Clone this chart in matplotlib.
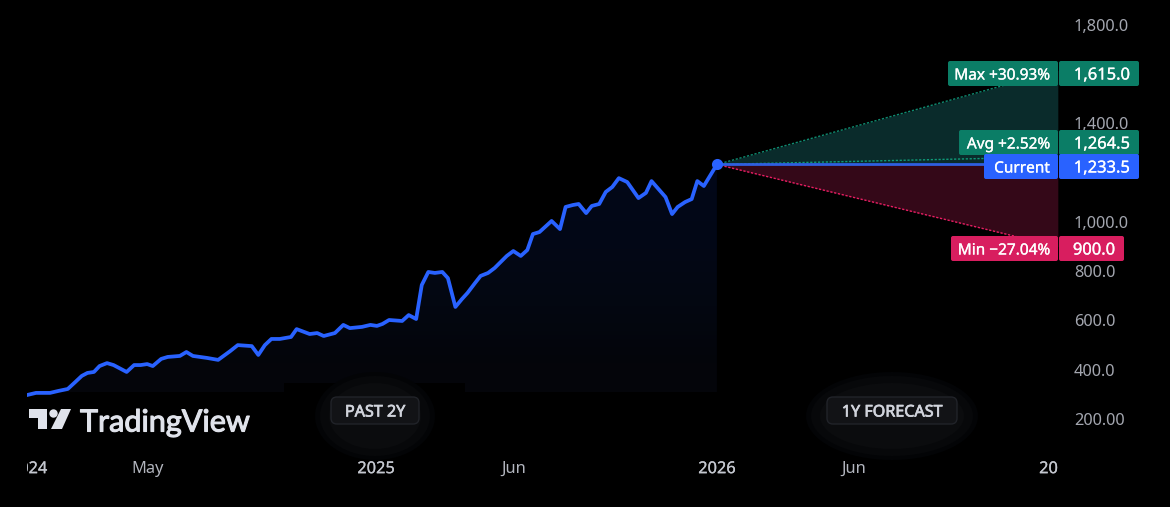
import numpy as np
import matplotlib
matplotlib.use("Agg")
import matplotlib.pyplot as plt
import matplotlib.patheffects as pe
from matplotlib.patches import FancyBboxPatch, Polygon, Circle, Ellipse, Rectangle
from matplotlib.transforms import Affine2D

plt.rcParams['font.family'] = ['Noto Sans', 'DejaVu Sans']

# price history: days relative to 2025-01-01, closing price
days = [-374,-364,-349,-340,-330,-322,-315,-309,-302,-296,-288,-281,-273,-267,-259,-252,-245,-239,-230,-223,
        -210,-203,-196,-181,-169,-156,-148,-133,-126,-119,-112,-103,-91,-85,-71,-63,-56,-44,-35,-28,
        -15,-6,1,7,14,28,35,43,49,56,63,71,77,85,92,98,106,112,120,127,
        140,147,155,162,168,175,188,197,203,211,217,225,231,239,246,253,260,269,281,289,
        295,310,317,323,331,338,344,351,365]
prices = [297,306,306,314,322,350,375,387,391,415,427,419,403,391,419,419,423,415,444,452,
          456,472,456,448,440,476,500,496,460,500,525,525,533,565,545,549,537,549,582,569,
          574,582,578,586,602,598,622,606,744,797,793,797,772,655,687,712,752,781,793,813,
          862,882,862,886,951,959,1004,971,1061,1069,1073,1036,1065,1073,1122,1142,1178,1162,1097,1118,
          1166,1101,1032,1061,1081,1093,1166,1146,1233.5]

current_price = 1233.5
forecast_end_day = 730
forecast_max = 1615.0
forecast_avg = 1264.5
forecast_min = 900.0

y_ticks = [200, 400, 600, 800, 1000, 1400, 1800]
y_labels = ['200.00', '400.0', '600.0', '800.0', '1,000.0', '1,400.0', '1,800.0']
x_ticks = [-372, -245, 0, 148, 365, 512, 730]
x_labels = ['2024', 'May', '2025', 'Jun', '2026', 'Jun', '2027']
x_major = ['2024', '2025', '2026', '2027']

BLUE = '#2962ff'
GREEN = '#0b7d66'
RED = '#d81e5f'

W, H = 1170, 507
fig = plt.figure(figsize=(W/100, H/100), dpi=100, facecolor='black')
ax = fig.add_axes([27/W, 0, (1058-27)/W, 1], facecolor='black')
for s in ax.spines.values():
    s.set_visible(False)

px = Affine2D().scale(1, -1).translate(0, H)

# area under history
base = 200 + (419-392)/0.2463
poly = Polygon(np.c_[days + days[::-1], prices + [base]*len(days)], closed=True, fc='none', ec='none',
               transform=ax.transData)
ax.add_patch(poly)
grad = np.array([[[2, 7, 24]], [[3, 8, 22]], [[3, 7, 17]], [[4, 5, 10]]], dtype=np.uint8)
im = ax.imshow(grad, extent=[days[0], days[-1], base, 1233.5], aspect='auto', interpolation='bilinear', zorder=1)
im.set_clip_path(poly)
ax.set_xlim((27-376)/0.934, (1058-376)/0.934)
ax.set_ylim(200 - (507-419)/0.2463, 200 + 419/0.2463)

# forecast cones
fx = [days[-1], forecast_end_day]
ax.fill_between(fx, [current_price]*2, [current_price, forecast_max], color='#0a2b2b', lw=0, zorder=1.2)
ax.fill_between(fx, [current_price]*2, [current_price, forecast_min], color='#340818', lw=0, zorder=1.2)
dash = (0, (1.6, 1.2))
ax.plot(fx, [current_price, forecast_max], color='#0f8a70', lw=1, ls=dash, zorder=2)
ax.plot(fx, [current_price, forecast_avg], color='#0f9a78', lw=1, ls=dash, zorder=2)
ax.plot(fx, [current_price, forecast_min], color='#e91e63', lw=1, ls=dash, zorder=2)
ax.plot(fx, [current_price]*2, color='#2f5fe0', lw=2, zorder=2.2)

# history line
ax.plot(days, prices, color=BLUE, lw=2.7, solid_joinstyle='round', zorder=3)
ax.plot([days[-1]], [prices[-1]], 'o', color=BLUE, ms=8, mew=0, zorder=3.2)

# ticks
ax.yaxis.tick_right()
ax.set_yticks(y_ticks, y_labels)
ax.tick_params(axis='y', length=0, pad=11.5, labelsize=11.8, labelcolor='#a3a6af')
ax.set_xticks(x_ticks, x_labels)
ax.tick_params(axis='x', length=0, pad=-33, labelsize=11.8, labelcolor='#b2b5be')
for lab in ax.get_xticklabels():
    lab.set_clip_on(True)
    lab.set_clip_box(ax.bbox)
    if lab.get_text() in x_major:
        lab.set_color('#c4c7cf')
        lab.set_path_effects([pe.withStroke(linewidth=0.15, foreground='#c4c7cf')])
for lab in ax.get_yticklabels():
    lab.set_ha('left')


def box(x0, y0, x1, y1, color, z=6):
    p = FancyBboxPatch((x0+2, y0+2), x1-x0-4, y1-y0-4, boxstyle='round,pad=2,rounding_size=2',
                       fc=color, ec='none', transform=px, clip_on=False, zorder=z)
    fig.add_artist(p)


def tag(left, top, bottom, right, color, name, value, value_right):
    box(left, top, 1058, bottom, color)
    box(1059, top, right, bottom, color)
    mid = (top+bottom)/2
    stroke = [pe.withStroke(linewidth=0.2, foreground='white')]
    fig.text(1050, mid, name, transform=px, color='white', fontsize=11.1, ha='right',
             va='center_baseline', zorder=7, path_effects=stroke)
    fig.text(value_right, mid, value, transform=px, color='white', fontsize=11.9, ha='right',
             va='center_baseline', zorder=7, path_effects=stroke)


tag(948, 61, 86, 1139, GREEN, 'Max +30.93%', '1,615.0', 1130)
tag(959, 130, 155, 1139, GREEN, 'Avg +2.52%', '1,264.5', 1130)
tag(984, 154, 179, 1139, BLUE, 'Current', '1,233.5', 1130)
tag(951, 236, 261, 1124, RED, 'Min \u221227.04%', '900.0', 1115)

# pills
fig.add_artist(Rectangle((284, 383), 181, 10, fc='black', ec='none', transform=px, zorder=4))


def pill(cx, w, text, wide=60):
    for rx, ry, c in [(wide, 44, '#030406'), (wide-5, 40, '#07080a'), (wide-14, 33, '#0b0c0e')]:
        fig.add_artist(Ellipse((cx, 416), 2*rx, 2*ry, fc=c, ec='none', transform=px, zorder=4.1))
    p = FancyBboxPatch((cx-w/2+5, 402), w-10, 17, boxstyle='round,pad=5,rounding_size=6',
                       fc='#121316', ec='#212329', lw=1, transform=px, zorder=4.2)
    fig.add_artist(p)
    fig.text(cx, 410.5, text, transform=px, color='#d1d4dc', fontsize=11.6,
             ha='center', va='center_baseline', zorder=4.3,
             path_effects=[pe.withStroke(linewidth=0.5, foreground='#d1d4dc')])


pill(375, 88, 'PAST 2Y')
pill(892, 130, '1Y FORECAST', wide=86)

# TradingView logo
LOGO = '#e0e3eb'
fig.add_artist(Polygon([(29, 409), (47, 409), (47, 429), (38, 429), (38, 418), (29, 418)], closed=True,
                       fc=LOGO, ec='none', transform=px, zorder=5))
fig.add_artist(Circle((53.5, 413.5), 4.2, fc=LOGO, ec='none', transform=px, zorder=5))
fig.add_artist(Polygon([(61, 409), (71, 409), (62, 429), (51, 429)], closed=True,
                       fc=LOGO, ec='none', transform=px, zorder=5))
fig.text(80, 420, 'TradingView', transform=px, color=LOGO, fontsize=22,
         ha='left', va='center_baseline', zorder=5, family=['Lato', 'DejaVu Sans'],
         path_effects=[pe.withStroke(linewidth=0.8, foreground=LOGO)])

fig.savefig('out.png', dpi=100, facecolor='black')
